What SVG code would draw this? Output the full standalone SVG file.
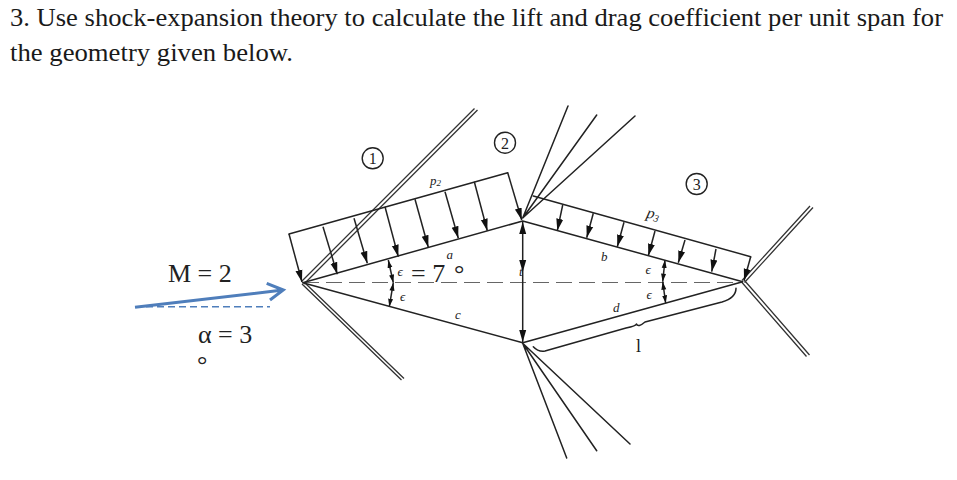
<svg xmlns="http://www.w3.org/2000/svg" width="957" height="480" viewBox="0 0 957 480">
<style>
text{font-family:"Liberation Serif","Times New Roman",serif;fill:#1a1a1a}
.h{font-size:25.5px}
.m{font-size:26px;fill:#222}
.i{font-style:italic;font-size:13px;fill:#222}
.n{font-size:16px;text-anchor:middle;fill:#222}
.l{fill:none;stroke:#222;stroke-width:1.500;stroke-linejoin:round;stroke-linecap:round}
.a{fill:none;stroke:#222;stroke-width:1.500;marker-end:url(#ah)}
.e{fill:none;stroke:#222;stroke-width:1.500;marker-end:url(#eh);marker-start:url(#es)}
.s{fill:none;stroke:#333;stroke-width:1.300}
.c{fill:#fff;stroke:#222;stroke-width:1.400}
</style>
<defs>
<marker id="ah" markerUnits="userSpaceOnUse" markerWidth="14" markerHeight="10" refX="12" refY="4" orient="auto"><path d="M0 0.500L12 4L0 7.500Z" fill="#111"/></marker>
<marker id="as" markerUnits="userSpaceOnUse" markerWidth="14" markerHeight="10" refX="0" refY="4" orient="auto"><path d="M12 0.500L0 4L12 7.500Z" fill="#111"/></marker>
<marker id="eh" markerUnits="userSpaceOnUse" markerWidth="10" markerHeight="8" refX="8" refY="3" orient="auto"><path d="M0 0.500L8 3L0 5.500Z" fill="#111"/></marker>
<marker id="es" markerUnits="userSpaceOnUse" markerWidth="10" markerHeight="8" refX="0" refY="3" orient="auto"><path d="M8 0.500L0 3L8 5.500Z" fill="#111"/></marker>
</defs>
<rect width="957" height="480" fill="#fff"/>
<g id="heading">
<text class="h" x="10" y="26" textLength="933" lengthAdjust="spacingAndGlyphs">3. Use shock-expansion theory to calculate the lift and drag coefficient per unit span for</text>
<text class="h" x="10" y="61" textLength="283" lengthAdjust="spacingAndGlyphs">the geometry given below.</text>
</g>
<g id="connectors">
<path d="M303 282.500H743" fill="none" stroke="#666" stroke-width="1" stroke-dasharray="16 7"/>
<g id="shocks">
<path class="s" d="M301.500 281.500L474.500 108.500M304 284L477.500 110M302 284L401.500 380M304.500 282.500L404 378.500M742 280.500L810 206M744.500 282.500L813 207.500M742 282.500L806.500 356.500M744.500 280.500L809.500 355"/>
<path class="l" d="M522.700 218L568 106M522.700 218L596.700 115M522.700 218L635 116M522.700 343.300L566.700 458M522.700 343.300L596.700 450.700M522.700 343.300L630 444"/>
</g>
<g id="pressure-p2">
<path class="l" d="M289 234L507.700 172.700"/>
<path class="a" d="M289 234L302 282"/>
<path class="a" d="M323 226.700L337.300 274.300"/>
<path class="a" d="M354 218.300L367.300 263.300"/>
<path class="a" d="M385 206.700L398.300 256.700"/>
<path class="a" d="M415 199.300L428.300 247.300"/>
<path class="a" d="M445 191.700L458.300 238.300"/>
<path class="a" d="M474.300 181.700L487.300 230.700"/>
<path class="a" d="M507.700 172.700L521.700 220"/>
</g>
<g id="pressure-p3">
<path class="l" d="M533.300 196L750.700 256.700"/>
<path class="a" d="M562.700 205L557.300 230.700"/>
<path class="a" d="M593.300 213.300L586.700 237.700"/>
<path class="a" d="M624 222.300L617.300 246.700"/>
<path class="a" d="M655 231L648.300 255.700"/>
<path class="a" d="M685 240L678.300 262.700"/>
<path class="a" d="M716 249L711.700 271.700"/>
<path class="a" d="M750.700 256.700L744 280.700"/>
</g>
<g id="dimensions">
<path class="a" style="marker-start:url(#as)" d="M522.700 272V222"/>
<path class="a" d="M522.700 272V342"/>
<path class="e" d="M393.300 282.700L388.300 260"/>
<path class="e" d="M393.300 282.700L389.300 306.700"/>
<path class="e" d="M662.700 281.700L665 260"/>
<path class="e" d="M662.700 281.700L665.700 303.300"/>
<path class="l" d="M533.300 346.700Q538 352 545 351L626 328Q636 326 636.500 324Q638 328 645 322L722 302Q736 298 736 288.300"/>
</g>
<g id="arrow-freestream">
<path d="M135 307.300L283 290M266.700 283.300L283.300 290L270 300" fill="none" stroke="#4f7ebb" stroke-width="3"/>
<path d="M135 306.700H270" fill="none" stroke="#4f7ebb" stroke-width="1.500" stroke-dasharray="7 4"/>
</g>
</g>
<g id="wedge">
<path class="l" d="M302.700 282.700L522.700 221L742.700 281.700L522.700 342.700Z"/>
</g>
<g id="region-1"><circle class="c" cx="372.700" cy="158.300" r="10.500"/><text class="n" x="372.700" y="164">1</text></g>
<g id="region-2"><circle class="c" cx="505" cy="142.700" r="10.500"/><text class="n" x="505" y="148.500">2</text></g>
<g id="region-3"><circle class="c" cx="696.700" cy="184" r="10.500"/><text class="n" x="696.700" y="189.700">3</text></g>
<g id="labels">
<text class="i" x="430" y="185">p<tspan font-size="9" dy="1">2</tspan></text>
<text class="i" x="646" y="219" style="font-size:16px" transform="rotate(14 653 217)">p<tspan font-size="10" dy="2">3</tspan></text>
<text class="i" x="446.500" y="259">a</text>
<text class="i" x="397.500" y="276">ϵ</text>
<text class="i" x="400" y="301">ϵ</text>
<text class="i" x="455" y="319">c</text>
<text class="i" x="519" y="276">t</text>
<text class="i" x="601" y="261">b</text>
<text class="i" x="613" y="312">d</text>
<text class="i" x="645.500" y="274">ϵ</text>
<text class="i" x="646.500" y="299">ϵ</text>
<text x="636" y="352" font-size="18" fill="#222">l</text>
<text class="m" x="168" y="282">M = 2</text>
<text class="m" x="198" y="343">α = 3</text>
<text class="m" x="197" y="373">°</text>
<text class="m" x="411" y="282">= 7</text>
<text class="m" x="454" y="282">°</text>
</g>
</svg>
